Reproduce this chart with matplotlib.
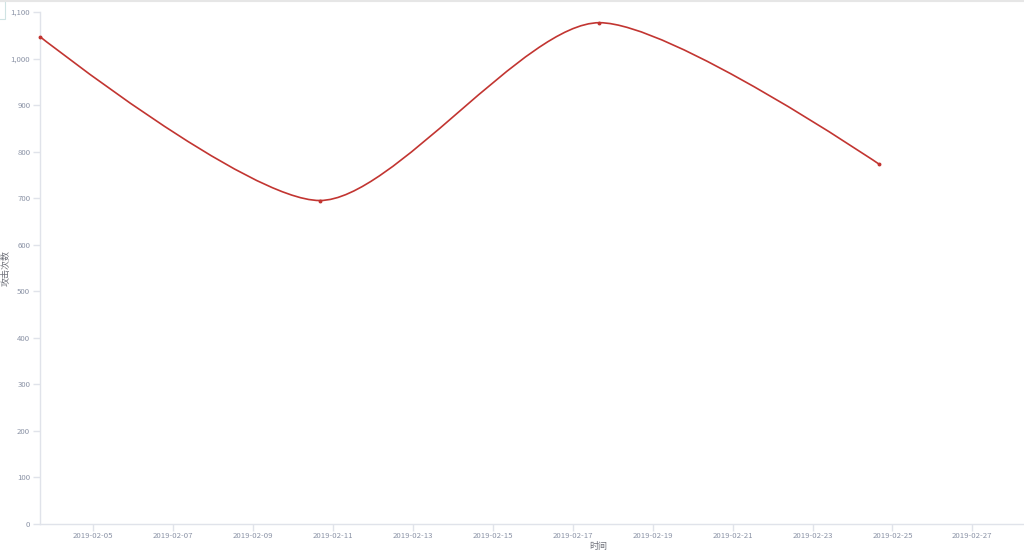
import datetime as dt

import matplotlib
matplotlib.use("Agg")
import matplotlib.pyplot as plt
import matplotlib.dates as mdates
import numpy as np
from matplotlib.path import Path
from matplotlib.patches import PathPatch, Rectangle
from matplotlib.ticker import FuncFormatter, MultipleLocator

plt.rcParams['font.family'] = ['Noto Sans CJK SC', 'DejaVu Sans']

# data
dates = ['2019-02-03 16:00', '2019-02-10 16:00', '2019-02-17 16:00', '2019-02-24 16:00']
counts = [1047, 695, 1077, 773]
x_label = '时间'
y_label = '攻击次数'

line_color = '#c23531'
axis_color = '#e0e3ea'
label_color = '#8b93a6'

t = [dt.datetime.strptime(d, '%Y-%m-%d %H:%M') for d in dates]
xs = mdates.date2num(t)
ys = np.array(counts, dtype=float)

fig = plt.figure(figsize=(10.24, 5.53), dpi=100)
ax = fig.add_axes([40 / 1024, 29 / 553, 984 / 1024, 512 / 553])

ax.set_xlim(xs[0], mdates.date2num(dt.datetime(2019, 2, 28, 7, 0)))
ax.set_ylim(0, 1100)


def smooth_path(px, py, smooth=0.26):
    # echarts-like bezier smoothing, computed in pixel space
    n = len(px)
    verts = [(px[0], py[0])]
    codes = [Path.MOVETO]
    cpx0, cpy0 = px[0], py[0]
    for i in range(1, n):
        x, y = px[i], py[i]
        if i == n - 1:
            cpx1, cpy1 = x, y
            ncx, ncy = x, y
        else:
            prevX, prevY = px[i - 1], py[i - 1]
            nextX, nextY = px[i + 1], py[i + 1]
            vx, vy = nextX - prevX, nextY - prevY
            lp = np.hypot(x - prevX, y - prevY)
            ln = np.hypot(nextX - x, nextY - y)
            r = ln / (ln + lp)
            ncx = x + vx * smooth * r
            ncy = y + vy * smooth * r
            ncx = max(min(ncx, max(nextX, x)), min(nextX, x))
            ncy = max(min(ncy, max(nextY, y)), min(nextY, y))
            vx, vy = ncx - x, ncy - y
            cpx1 = x - vx * lp / ln
            cpy1 = y - vy * lp / ln
            cpx1 = max(min(cpx1, max(prevX, x)), min(prevX, x))
            cpy1 = max(min(cpy1, max(prevY, y)), min(prevY, y))
            vx, vy = x - cpx1, y - cpy1
            ncx = x + vx * ln / lp
            ncy = y + vy * ln / lp
        verts += [(cpx0, cpy0), (cpx1, cpy1), (x, y)]
        codes += [Path.CURVE4] * 3
        cpx0, cpy0 = ncx, ncy
    return verts, codes


disp = ax.transData.transform(np.column_stack([xs, ys]))
verts, codes = smooth_path(disp[:, 0], disp[:, 1])
verts = ax.transData.inverted().transform(np.array(verts))
ax.add_patch(PathPatch(Path(verts, codes), facecolor='none', edgecolor=line_color,
                       lw=1.2, zorder=3, clip_on=False))
ax.plot(xs, ys, 'o', color=line_color, ms=1.8, zorder=4, clip_on=False)

# axes styling
for side in ['top', 'right']:
    ax.spines[side].set_visible(False)
for side in ['left', 'bottom']:
    ax.spines[side].set_color(axis_color)
    ax.spines[side].set_linewidth(1)

ax.yaxis.set_major_locator(MultipleLocator(100))
ax.yaxis.set_major_formatter(FuncFormatter(lambda v, p: '{:,.0f}'.format(v)))
ax.xaxis.set_major_locator(mdates.DayLocator(bymonthday=range(5, 28, 2)))
ax.xaxis.set_major_formatter(mdates.DateFormatter('%Y-%m-%d'))
ax.tick_params(axis='both', colors=axis_color, labelcolor=label_color,
               labelsize=5.6, length=5, width=1, direction='out')
ax.tick_params(axis='x', pad=1)
ax.tick_params(axis='y', pad=2)

fig.text(598 / 1024, 1 - 546 / 553, x_label, ha='center', va='center',
         fontsize=6.5, color='#6e7079')
fig.text(6 / 1024, 1 - 268 / 553, y_label, ha='center', va='center',
         rotation=90, fontsize=6.5, color='#6e7079')

# container border at top and small box at left
fig.add_artist(plt.Line2D([0, 1], [1 - 1 / 553, 1 - 1 / 553], color='#e6e6e6', lw=1.5))
fig.add_artist(Rectangle((-0.01, 1 - 19 / 553), 4.5 / 1024 + 0.01, 18 / 553,
                         transform=fig.transFigure, facecolor='none',
                         edgecolor='#cfe3e3', lw=0.8))

fig.savefig('out.png', dpi=100)
